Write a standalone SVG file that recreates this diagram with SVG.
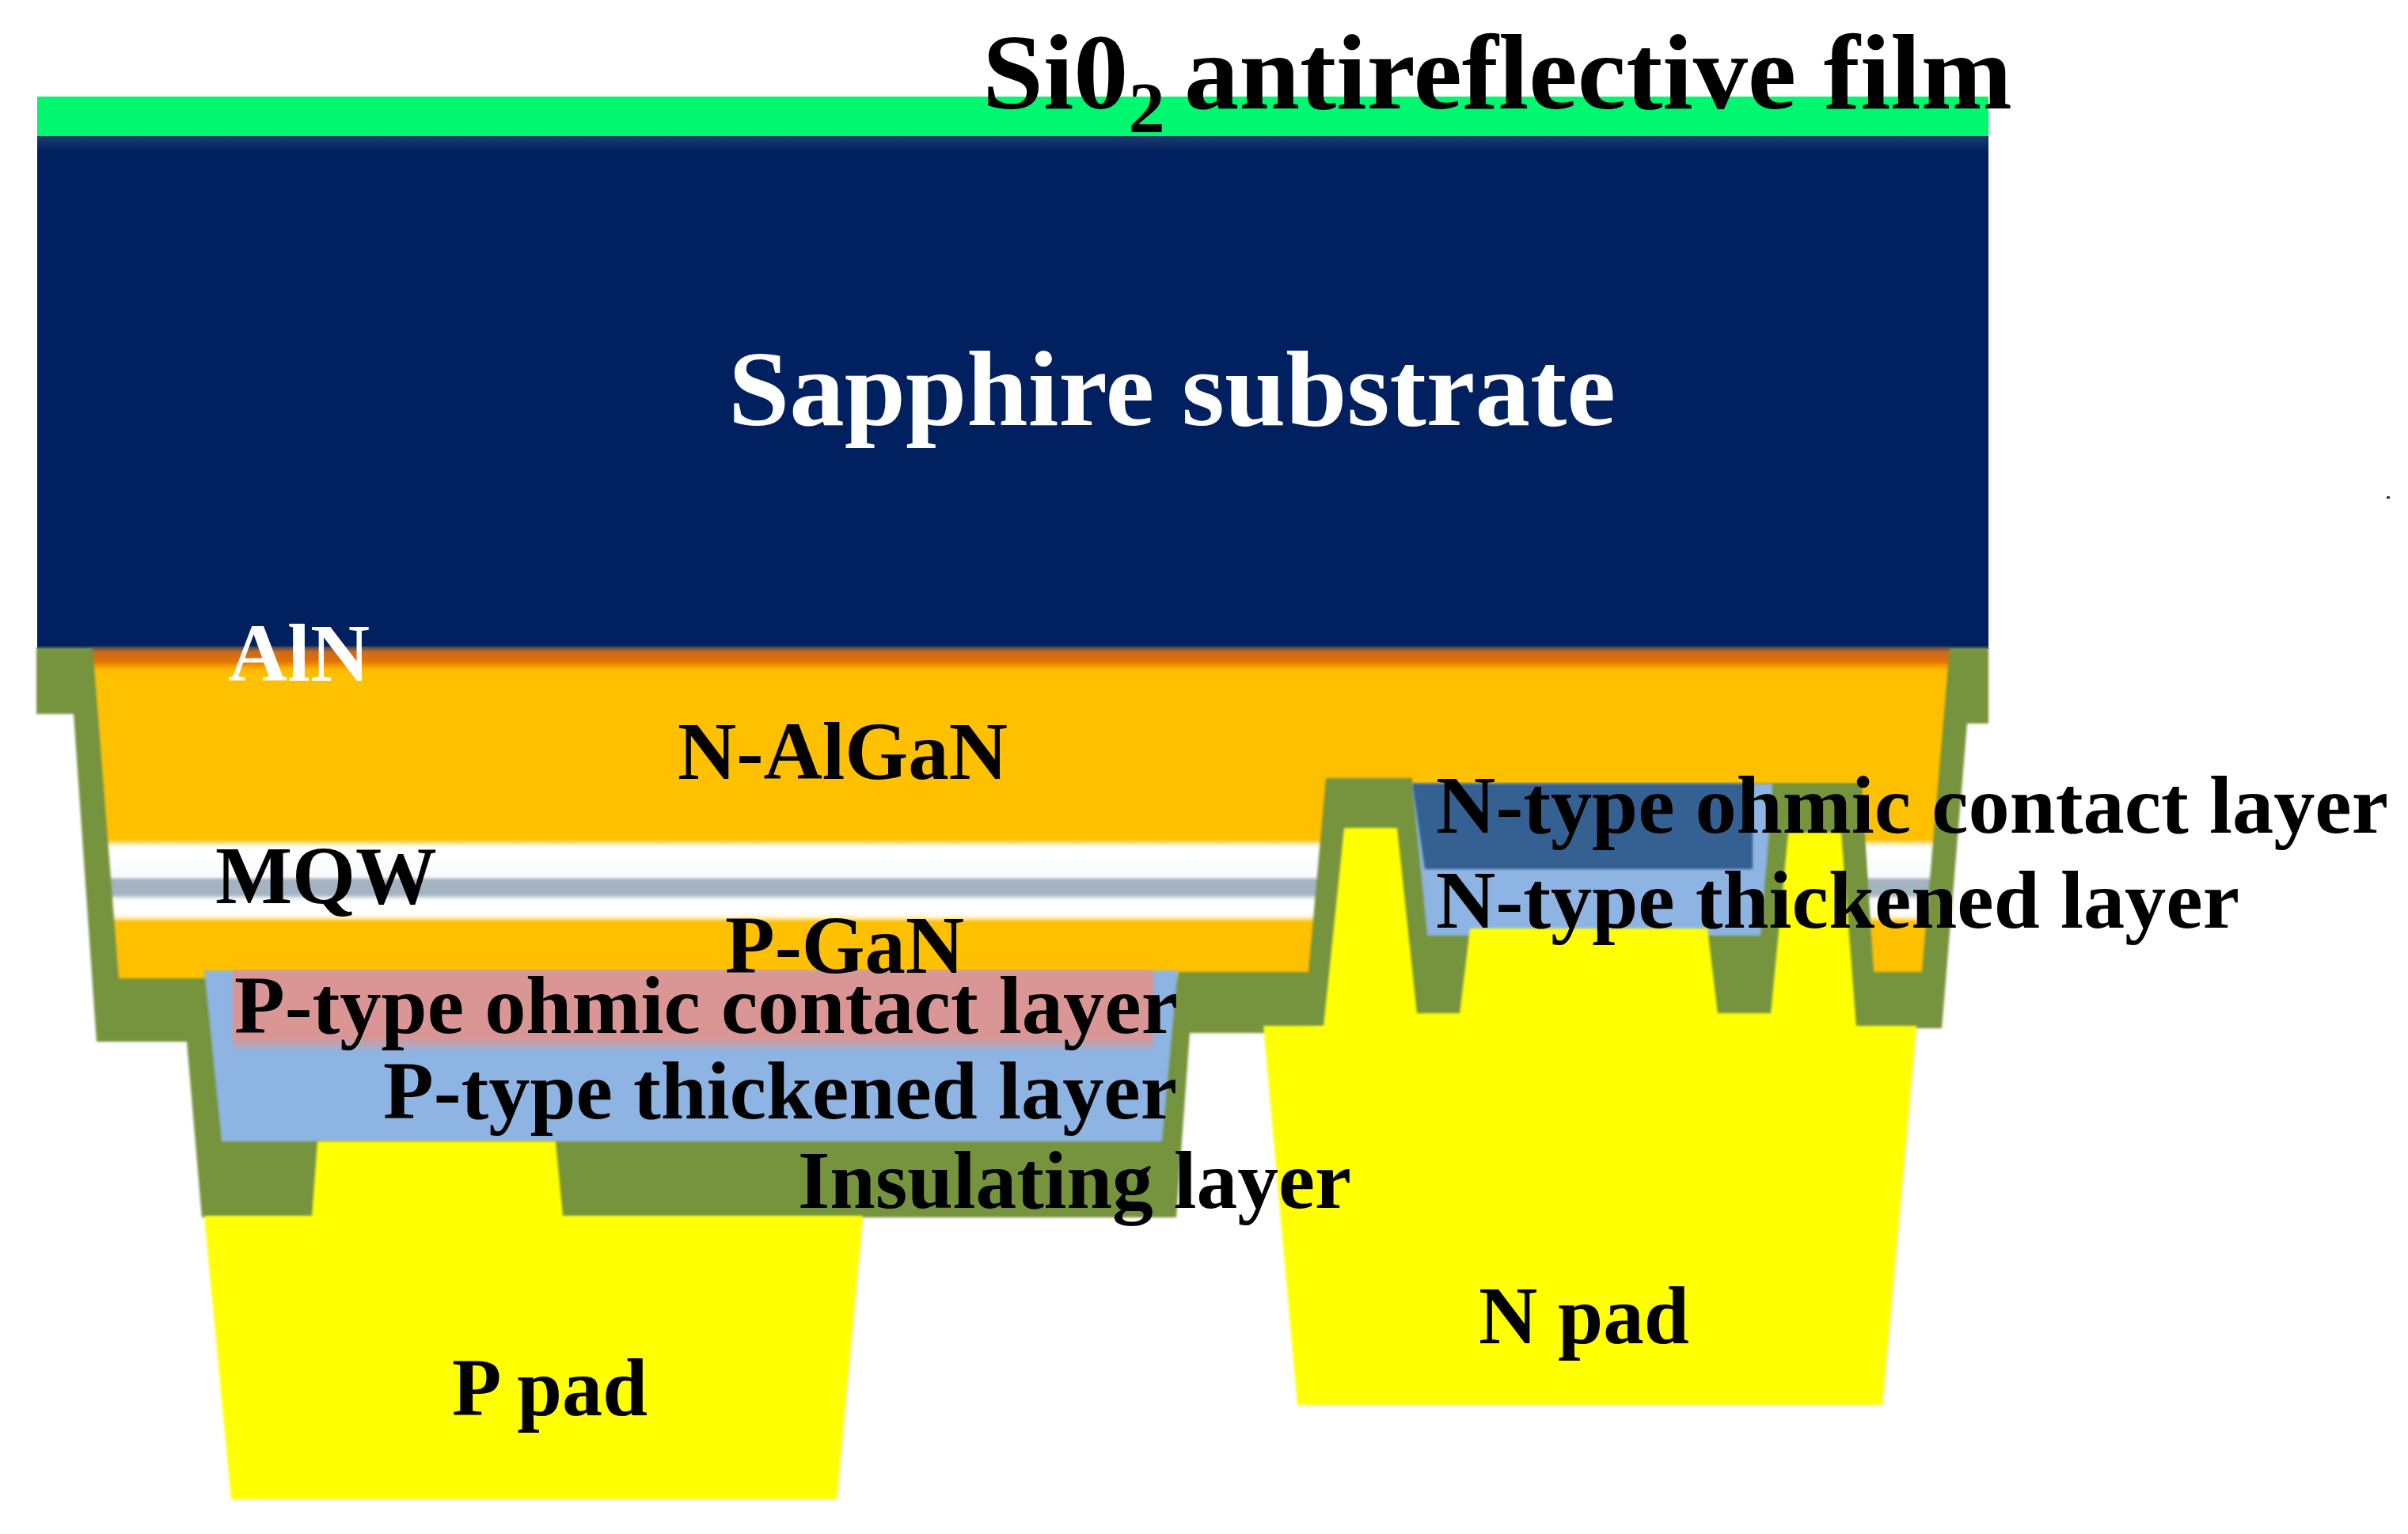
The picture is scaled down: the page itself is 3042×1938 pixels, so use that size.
<svg xmlns="http://www.w3.org/2000/svg" width="3042" height="1938" viewBox="0 0 3042 1938">
<style>
text{font-family:"Liberation Serif","Times New Roman",serif;font-weight:700;fill:#000}
.w{fill:#fff}
.l{font-size:104px}
.yl{fill:#FFFF00}
.gr{fill:#76933C}
.soft{filter:url(#soft)}
</style>
<defs>
<filter id="soft" x="-5%" y="-5%" width="110%" height="110%"><feGaussianBlur stdDeviation="1.6"/></filter>
<linearGradient id="stack" gradientUnits="userSpaceOnUse" x1="0" y1="818" x2="0" y2="1240">
<stop offset="0" stop-color="#4A3A48"/>
<stop offset="0.012" stop-color="#CC6A20"/>
<stop offset="0.04" stop-color="#E07000"/>
<stop offset="0.066" stop-color="#FFB800"/>
<stop offset="0.08" stop-color="#FFC000"/>
<stop offset="0.576" stop-color="#FFC000"/>
<stop offset="0.592" stop-color="#FFF8E0"/>
<stop offset="0.6" stop-color="#FFFFFF"/>
<stop offset="0.687" stop-color="#F8FBFD"/>
<stop offset="0.695" stop-color="#A3B3C2"/>
<stop offset="0.74" stop-color="#A3B3C2"/>
<stop offset="0.752" stop-color="#F0F4F6"/>
<stop offset="0.76" stop-color="#FFFFFF"/>
<stop offset="0.798" stop-color="#FFFFFF"/>
<stop offset="0.81" stop-color="#FFEFA8"/>
<stop offset="0.82" stop-color="#FFC000"/>
<stop offset="1" stop-color="#FFC000"/>
</linearGradient>
<linearGradient id="pink" x1="0" y1="0" x2="0" y2="1">
<stop offset="0" stop-color="#DA9694"/>
<stop offset="0.82" stop-color="#DA9694"/>
<stop offset="1" stop-color="#8DB4E2"/>
</linearGradient>
<linearGradient id="navyG" x1="0" y1="0" x2="0" y2="1">
<stop offset="0" stop-color="#1F3B70"/>
<stop offset="0.03" stop-color="#002060"/>
<stop offset="1" stop-color="#002060"/>
</linearGradient>
</defs>
<rect width="3042" height="1938" fill="#fff"/>
<g id="film"><rect x="47" y="122" width="2465" height="50" fill="#00F871"/></g>
<g id="substrate"><rect x="47" y="172" width="2465" height="648" fill="url(#navyG)"/></g>
<g id="insulating" class="soft"><polygon class="gr" points="46,818 2512,818 2512,914 2485,914 2453,1299 2345,1299 1672,1297 1596,1305 1503,1305 1486,1538 255,1538 236,1316 122,1316 93,902 46,902"/></g>
<g id="stack-layers" class="soft"><polygon fill="url(#stack)" points="117,818 2463,818 2428,1228 2367,1228 2351,990 1784,990 1784,983 1675,983 1653,1228 1488,1228 1488,1236 150,1236"/></g>
<g id="p-thickened" class="soft"><polygon fill="#8DB4E2" points="258,1226 1488,1226 1468,1442 280,1442"/></g>
<g id="p-ohmic" class="soft"><rect x="294" y="1226" width="1163" height="103" fill="url(#pink)"/></g>
<g id="n-thickened" class="soft"><polygon fill="#8DB4E2" points="1784,990 2240,990 2224,1182 1803,1182"/></g>
<g id="n-ohmic" class="soft"><polygon fill="#366092" points="1784,990 2214,990 2214,1098 1800,1098"/></g>
<g id="n-right-cap" class="soft"><polygon class="gr" points="2240,990 2351,990 2362,1173 2240,1173"/></g>
<g id="p-pad" class="soft"><polygon class="yl" points="401,1442 702,1442 711,1536 1090,1536 1057,1894 292,1894 258,1536 394,1536"/></g>
<g id="n-pad" class="soft"><polygon class="yl" points="1596,1296 1672,1296 1698,1046 1765,1046 1790,1280 1844,1280 1857,1173 2157,1173 2170,1280 2237,1280 2259,1052 2326,1052 2345,1296 2421,1296 2378,1775 1639,1775"/></g>
<g id="labels">
<text x="1241" y="137" font-size="135" textLength="1301" lengthAdjust="spacingAndGlyphs">Si0<tspan font-size="90" dy="30">2</tspan><tspan dy="-30" dx="-10"> antireflective film</tspan></text>
<text class="w" x="920" y="537" font-size="135" textLength="1121" lengthAdjust="spacingAndGlyphs">Sapphire substrate</text>
<text class="w l" x="288" y="860" textLength="179" lengthAdjust="spacingAndGlyphs">AlN</text>
<text class="l" x="856" y="984" textLength="417" lengthAdjust="spacingAndGlyphs">N-AlGaN</text>
<text class="l" x="272" y="1141" textLength="280" lengthAdjust="spacingAndGlyphs">MQW</text>
<text class="l" x="916" y="1229" textLength="302" lengthAdjust="spacingAndGlyphs">P-GaN</text>
<text class="l" x="296" y="1305" textLength="1192" lengthAdjust="spacingAndGlyphs">P-type ohmic contact layer</text>
<text class="l" x="484" y="1413" textLength="1003" lengthAdjust="spacingAndGlyphs">P-type thickened layer</text>
<text class="l" x="1008" y="1526" textLength="699" lengthAdjust="spacingAndGlyphs">Insulating layer</text>
<text class="l" x="571" y="1788" textLength="247" lengthAdjust="spacingAndGlyphs">P pad</text>
<text class="l" x="1868" y="1697" textLength="266" lengthAdjust="spacingAndGlyphs">N pad</text>
<text class="l" x="1814" y="1052" textLength="1203" lengthAdjust="spacingAndGlyphs">N-type ohmic contact layer</text>
<text class="l" x="1814" y="1172" textLength="1015" lengthAdjust="spacingAndGlyphs">N-type thickened layer</text>
</g>
<g id="mark"><rect x="3015" y="627" width="4" height="3" fill="#333"/></g>
</svg>
